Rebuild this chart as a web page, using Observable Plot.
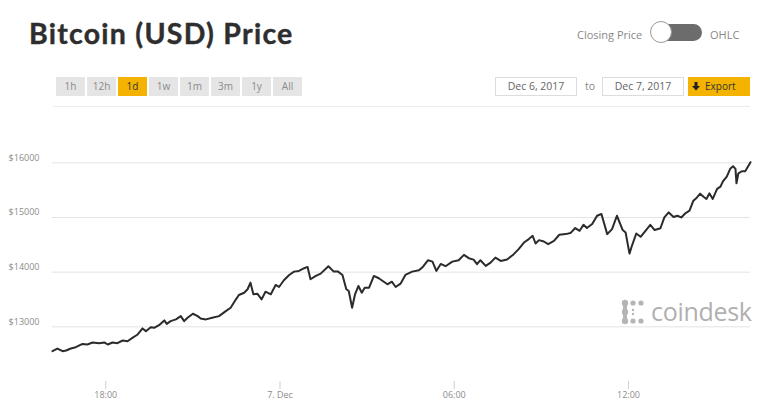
<!DOCTYPE html>
<html>
<head>
<meta charset="utf-8">
<script src="https://cdn.jsdelivr.net/npm/d3@7"></script>
<script src="https://cdn.jsdelivr.net/npm/@observablehq/plot@0.6"></script>
<style>
  html, body { margin: 0; padding: 0; background: #fff; }
  #page { position: relative; width: 758px; height: 412px; overflow: hidden; font-family: "Open Sans", sans-serif; }
  .abs { position: absolute; }
  #title { left: 29px; top: 16px; font-family: Lato, sans-serif; font-weight: 700; font-size: 28.5px; letter-spacing: 1.25px; color: #2e2e2e; white-space: nowrap; -webkit-text-stroke: 0.4px #2e2e2e; }
  .btn { top: 77px; height: 19px; width: 29px; background: #e5e5e5; color: #8a8a8a; font-size: 10px; line-height: 19px; text-align: center; }
  .btn.on { background: #f4b300; color: #333; }
  .small { font-size: 11px; color: #888; white-space: nowrap; }
  .datebox { top: 77px; height: 17px; border: 1px solid #ddd; font-size: 10.5px; color: #666; line-height: 17px; text-align: center; }
  #chart { left: 0; top: 110px; }
</style>
</head>
<body>
<div id="page">
  <div id="title" class="abs">Bitcoin (USD) Price</div>

  <div class="abs small" style="left:577px; top:27px;">Closing Price</div>
  <div class="abs" style="left:655px; top:24px; width:47px; height:17px; border-radius:9px; background:#6c6c6c;"></div>
  <div class="abs" style="left:650px; top:21px; width:20px; height:20px; border-radius:50%; background:#fff; border:1px solid #999;"></div>
  <div class="abs small" style="left:710px; top:27px;">OHLC</div>

  <div id="buttons"></div>

  <div class="abs datebox" style="left:495px; width:80px;">Dec 6, 2017</div>
  <div class="abs small" style="left:585px; top:79px; font-size:10.5px;">to</div>
  <div class="abs datebox" style="left:602px; width:80px;">Dec 7, 2017</div>
  <div class="abs" style="left:688px; top:77px; width:62px; height:19px; background:#f4b300;">
    <svg width="62" height="19" style="display:block">
      <path d="M6.5,5 h3 v4 h2.5 l-4,4.5 l-4,-4.5 h2.5z" fill="#222"/>
      <text x="17" y="13" font-size="10" fill="#333" font-family="Open Sans, sans-serif">Export</text>
    </svg>
  </div>
  <div class="abs" style="left:53px; top:106px; width:697px; height:1px; background:#ececec;"></div>

  <div id="chart" class="abs"></div>

  <div class="abs" style="left:621px; top:299px;">
    <svg width="28" height="28">
      <g fill="#b5b5b5">
        <circle cx="4" cy="4" r="3.2"/><circle cx="12" cy="4" r="2.6"/><circle cx="20" cy="4" r="2.6"/>
        <circle cx="4" cy="13" r="3.2"/><circle cx="4" cy="22" r="3.2"/>
        <circle cx="12" cy="22" r="2.6"/><circle cx="20" cy="22" r="2.6"/>
        <rect x="2" y="4" width="4" height="18"/>
        <circle cx="12" cy="11" r="1.2"/><circle cx="12" cy="15" r="1.2"/>
      </g>
    </svg>
  </div>
  <div class="abs" style="left:651px; top:294px; font-family:'Open Sans',sans-serif; font-size:25px; color:#b0b0b0; letter-spacing:-0.3px;">coindesk</div>
</div>

<script>
// ---- data ----
const rangeButtons = ["1h", "12h", "1d", "1w", "1m", "3m", "1y", "All"];
const activeButton = "1d";

const times = [
  "2017-12-06T16:10","2017-12-06T16:20","2017-12-06T16:31","2017-12-06T16:38","2017-12-06T16:48",
  "2017-12-06T16:58","2017-12-06T17:12","2017-12-06T17:22","2017-12-06T17:33","2017-12-06T17:46",
  "2017-12-06T17:57","2017-12-06T18:04","2017-12-06T18:14","2017-12-06T18:24","2017-12-06T18:35",
  "2017-12-06T18:45","2017-12-06T18:55","2017-12-06T19:06","2017-12-06T19:16","2017-12-06T19:23",
  "2017-12-06T19:33","2017-12-06T19:40","2017-12-06T19:50","2017-12-06T20:01","2017-12-06T20:06",
  "2017-12-06T20:14","2017-12-06T20:25","2017-12-06T20:35","2017-12-06T20:42","2017-12-06T20:49",
  "2017-12-06T21:00","2017-12-06T21:10","2017-12-06T21:16","2017-12-06T21:27","2017-12-06T21:40",
  "2017-12-06T21:54","2017-12-06T22:08","2017-12-06T22:18","2017-12-06T22:29","2017-12-06T22:35",
  "2017-12-06T22:46","2017-12-06T22:53","2017-12-06T22:59","2017-12-06T23:05","2017-12-06T23:13",
  "2017-12-06T23:22","2017-12-06T23:30","2017-12-06T23:41","2017-12-06T23:51","2017-12-06T23:58",
  "2017-12-07T00:08","2017-12-07T00:19","2017-12-07T00:29","2017-12-07T00:39","2017-12-07T00:50",
  "2017-12-07T00:57","2017-12-07T01:03","2017-12-07T01:14","2017-12-07T01:24","2017-12-07T01:40",
  "2017-12-07T01:51","2017-12-07T02:00","2017-12-07T02:09","2017-12-07T02:17","2017-12-07T02:22",
  "2017-12-07T02:29","2017-12-07T02:35","2017-12-07T02:42","2017-12-07T02:49","2017-12-07T02:55",
  "2017-12-07T03:04","2017-12-07T03:14","2017-12-07T03:24","2017-12-07T03:42","2017-12-07T03:51",
  "2017-12-07T03:59","2017-12-07T04:09","2017-12-07T04:19","2017-12-07T04:33","2017-12-07T04:47",
  "2017-12-07T04:55","2017-12-07T05:06","2017-12-07T05:15","2017-12-07T05:23","2017-12-07T05:32",
  "2017-12-07T05:42","2017-12-07T05:56","2017-12-07T06:09","2017-12-07T06:20","2017-12-07T06:30",
  "2017-12-07T06:40","2017-12-07T06:47","2017-12-07T06:54","2017-12-07T07:05","2017-12-07T07:15",
  "2017-12-07T07:25","2017-12-07T07:36","2017-12-07T07:49","2017-12-07T08:03","2017-12-07T08:13",
  "2017-12-07T08:24","2017-12-07T08:34","2017-12-07T08:42","2017-12-07T08:48","2017-12-07T08:55",
  "2017-12-07T09:05","2017-12-07T09:14","2017-12-07T09:26","2017-12-07T09:37","2017-12-07T09:50",
  "2017-12-07T10:00","2017-12-07T10:10","2017-12-07T10:19","2017-12-07T10:27","2017-12-07T10:34",
  "2017-12-07T10:45","2017-12-07T10:55","2017-12-07T11:04","2017-12-07T11:16","2017-12-07T11:26",
  "2017-12-07T11:36","2017-12-07T11:43","2017-12-07T11:48","2017-12-07T11:54","2017-12-07T12:02",
  "2017-12-07T12:07","2017-12-07T12:16","2017-12-07T12:25","2017-12-07T12:35","2017-12-07T12:45",
  "2017-12-07T12:54","2017-12-07T13:06","2017-12-07T13:14","2017-12-07T13:23","2017-12-07T13:33",
  "2017-12-07T13:41","2017-12-07T13:49","2017-12-07T13:58","2017-12-07T14:06","2017-12-07T14:14",
  "2017-12-07T14:21","2017-12-07T14:28","2017-12-07T14:35","2017-12-07T14:41","2017-12-07T14:47",
  "2017-12-07T14:54","2017-12-07T15:03","2017-12-07T15:10","2017-12-07T15:15","2017-12-07T15:23",
  "2017-12-07T15:30","2017-12-07T15:36","2017-12-07T15:41","2017-12-07T15:43","2017-12-07T15:47",
  "2017-12-07T15:54","2017-12-07T16:01","2017-12-07T16:06","2017-12-07T16:12"
];

const prices = [
  12555,12603,12554,12567,12603,
  12627,12688,12677,12714,12701,
  12714,12677,12714,12701,12750,
  12737,12798,12860,12971,12921,
  12994,12982,13031,13118,13055,
  13105,13136,13196,13105,13165,
  13239,13196,13154,13136,13165,
  13196,13288,13349,13503,13582,
  13624,13687,13808,13595,13606,
  13503,13643,13595,13766,13729,
  13852,13949,14010,14023,14072,
  14096,13870,13931,13973,14109,
  14010,14010,13949,13687,13655,
  13349,13595,13747,13624,13716,
  13716,13931,13889,13778,13826,
  13729,13789,13949,14010,14036,
  14096,14219,14193,14023,14151,
  14109,14193,14219,14316,14256,
  14230,14146,14219,14114,14175,
  14267,14206,14230,14329,14421,
  14542,14605,14665,14524,14586,
  14561,14513,14573,14684,14696,
  14715,14807,14757,14867,14807,
  14880,15032,15064,14696,14788,
  15032,14880,14770,14726,14340,
  14482,14707,14647,14757,14867,
  14770,14803,15001,15093,15008,
  15032,15001,15082,15124,15308,
  15363,15436,15381,15339,15442,
  15339,15523,15565,15662,15749,
  15890,15938,15890,15625,15809,
  15846,15846,15919,16011
];

const yTicks = [13000, 14000, 15000, 16000];
const yDomain = [12000, 16500];
const xTickTimes = ["2017-12-06T18:00", "2017-12-07T00:00", "2017-12-07T06:00", "2017-12-07T12:00"];

// ---- build ----
const btnBox = document.getElementById("buttons");
rangeButtons.forEach((b, i) => {
  const d = document.createElement("div");
  d.className = "abs btn" + (b === activeButton ? " on" : "");
  d.style.left = (56 + i * 31) + "px";
  d.textContent = b;
  btnBox.appendChild(d);
});

const parse = s => new Date(s + ":00Z");
const data = times.map((t, i) => ({ time: parse(t), price: prices[i] }));
const xTicks = xTickTimes.map(parse);
const fmtTime = d3.utcFormat("%H:%M");
const fmtDay = d => d.getUTCHours() === 0 && d.getUTCMinutes() === 0 ? `${d.getUTCDate()}. ${d3.utcFormat("%b")(d)}` : fmtTime(d);

const chart = Plot.plot({
  width: 758,
  height: 302,
  marginLeft: 52,
  marginRight: 8,
  marginTop: 25,
  marginBottom: 31,
  style: { fontFamily: "Open Sans, sans-serif", fontSize: "9px", background: "transparent", overflow: "visible" },
  x: { type: "utc", domain: d3.extent(data, d => d.time) },
  y: { domain: yDomain },
  marks: [
    Plot.gridY(yTicks, { stroke: "#e3e3e3", strokeOpacity: 1, strokeWidth: 1 }),
    Plot.axisY(yTicks, { tickSize: 0, tickPadding: 13, dy: -5, tickFormat: d => "$" + d, fill: "#8c8c8c", label: null }),
    Plot.axisX(xTicks, { tickSize: 8, tickPadding: 2, tickFormat: fmtDay, stroke: "#cfcfcf", fill: "#8c8c8c", label: null }),
    Plot.line(data, { x: "time", y: "price", stroke: "#2b2b2b", strokeWidth: 2, strokeLinejoin: "round" })
  ]
});
document.getElementById("chart").appendChild(chart);
</script>
</body>
</html>
